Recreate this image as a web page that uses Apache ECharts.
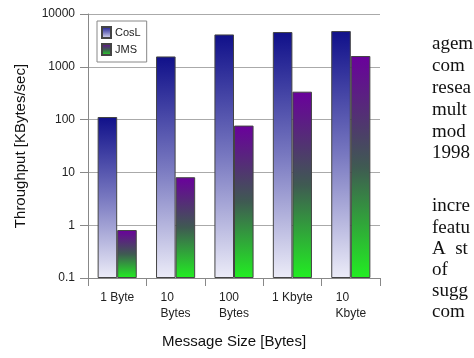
<!DOCTYPE html>
<html><head><meta charset="utf-8">
<script src="https://cdn.jsdelivr.net/npm/echarts@6/dist/echarts.min.js"></script>
<style>html,body{margin:0;padding:0;background:#fff}#c{width:474px;height:358px}</style>
</head><body><div id="c"></div>
<script>
var categories = ['1 Byte', '10\nBytes', '100\nBytes', '1 Kbyte', '10\nKbyte'];
var coslValues = [112, 1570, 4100, 4550, 4750];
var jmsValues = [0.81, 8.1, 77, 338, 1600];
var yTicks = [0.1, 1, 10, 100, 1000, 10000];
var yTickLabels = ['0.1', '1', '10', '100', '1000', '10000'];
var seriesNames = ['CosL', 'JMS'];
var yAxisName = 'Throughput [KBytes/sec]';
var xAxisName = 'Message Size [Bytes]';
var sideTextTop = ['agem', 'com', 'resea', 'mult', 'mod', '1998'];
var sideTextBottom = ['incre', 'featu', 'A  st', 'of', 'sugg', 'com'];

var mctx = document.createElement('canvas').getContext('2d');
mctx.font = '12px "Liberation Sans", Arial, sans-serif';
function padLines(s) {
  var lines = s.split('\n');
  if (lines.length < 2) return s;
  var w = lines.map(function (l) { return mctx.measureText(l).width; });
  var mw = Math.max.apply(null, w);
  return lines.map(function (l) {
    var out = l;
    while (mctx.measureText(out + '\u00a0').width <= mw + 1) out += '\u00a0';
    return out;
  }).join('\n');
}

var chart = echarts.init(document.getElementById('c'), null, {renderer: 'canvas'});
var graphics = [];
sideTextTop.forEach(function (t, i) {
  graphics.push({type: 'text', left: 432, top: 46 + i * 21.8 - 11,
    style: {text: t, font: '19px "Liberation Serif", "Times New Roman", serif', fill: '#111'}});
});
sideTextBottom.forEach(function (t, i) {
  graphics.push({type: 'text', left: 432, top: 208 + i * 21.2 - 11,
    style: {text: t, font: '19px "Liberation Serif", "Times New Roman", serif', fill: '#111'}});
});

chart.setOption({
  animation: false,
  backgroundColor: '#fff',
  textStyle: {fontFamily: '"Liberation Sans", Arial, sans-serif'},
  grid: {left: 88, right: 94, top: 14, bottom: 80, containLabel: false},
  legend: {
    left: 97, top: 21, orient: 'vertical', icon: 'rect',
    itemWidth: 9, itemHeight: 11, itemGap: 4,
    padding: [5, 6, 6, 4],
    borderColor: '#888', borderWidth: 1, backgroundColor: '#fff',
    textStyle: {fontSize: 11, color: '#222', padding: [0, 0, 0, -1]},
    data: seriesNames
  },
  xAxis: {
    type: 'category', data: categories,
    name: xAxisName, nameLocation: 'middle', nameGap: 56,
    nameTextStyle: {fontSize: 15, color: '#111'},
    axisLine: {lineStyle: {color: '#888'}},
    axisTick: {show: true, length: 8, interval: 0, lineStyle: {color: '#888'}},
    axisLabel: {interval: 0, fontSize: 12, color: '#222', margin: 12, lineHeight: 16,
      formatter: function (v) { return padLines(v); }}
  },
  yAxis: {
    type: 'log', logBase: 10, min: 0.1, max: 10000, startValue: 0.1,
    name: yAxisName, nameLocation: 'middle', nameGap: 60, nameRotate: 90,
    nameTextStyle: {fontSize: 15, color: '#111'},
    axisLine: {show: true, lineStyle: {color: '#888'}},
    axisTick: {show: true, length: 8, lineStyle: {color: '#888'}},
    axisLabel: {fontSize: 12, color: '#222', margin: 13,
      formatter: function (v) {
        for (var i = 0; i < yTicks.length; i++) {
          if (Math.abs(Math.log10(v) - Math.log10(yTicks[i])) < 1e-6) return yTickLabels[i];
        }
        return '';
      }},
    splitLine: {lineStyle: {color: '#aaa', width: 1}}
  },
  series: [
    {
      name: seriesNames[0], type: 'bar', data: coslValues,
      barGap: '0%', barCategoryGap: '33%',
      itemStyle: {
        borderColor: '#444', borderWidth: 1,
        color: new echarts.graphic.LinearGradient(0, 0, 0, 1, [
          {offset: 0, color: '#10108a'},
          {offset: 0.5, color: '#7878c0'},
          {offset: 1, color: '#ececf8'}
        ])
      }
    },
    {
      name: seriesNames[1], type: 'bar', data: jmsValues,
      itemStyle: {
        borderColor: '#444', borderWidth: 1,
        color: new echarts.graphic.LinearGradient(0, 0, 0, 1, [
          {offset: 0, color: '#6a009c'},
          {offset: 0.5, color: '#3f5a52'},
          {offset: 1, color: '#22ee22'}
        ])
      }
    }
  ],
  graphic: graphics
});
</script>
</body></html>
